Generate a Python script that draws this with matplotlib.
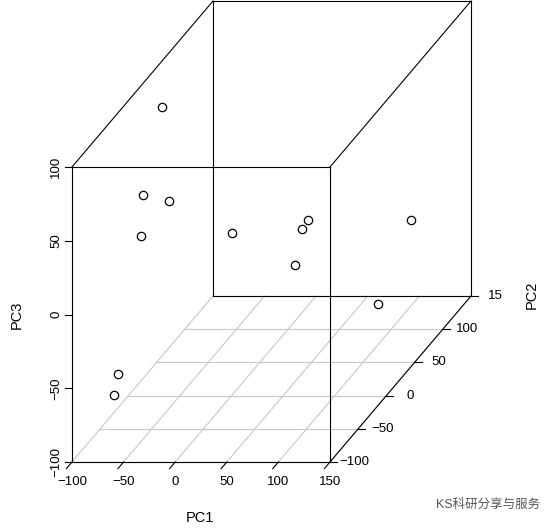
import matplotlib
matplotlib.use("Agg")
import matplotlib.pyplot as plt
import numpy as np

pc1 = [-95, -72, -74, -60, 0, 60, 68, 75, 119, 74, -83, -73]
pc2 = [50, -25, 25, -50, 0, 25, 0, -25, 100, 125, -50, -75]
pc3 = [73, 47, 21, 31, 10, 8, 13, 0, -26, -94, -63, -66]
x_ticks = [-100, -50, 0, 50, 100, 150]
y_ticks = [-100, -50, 0, 50, 100, 150]
z_ticks = [-100, -50, 0, 50, 100]

def proj(x, y, z):
    u = (np.asarray(y, float) + 100) / 250
    sx = 72 + (np.asarray(x, float) + 100) / 250 * 258 + u * 141
    sy = 462 - (np.asarray(z, float) + 100) / 200 * 295 - u * 166
    return sx, sy

plt.rcParams['font.family'] = ['Liberation Sans', 'Noto Sans CJK SC', 'DejaVu Sans']
fig = plt.figure(figsize=(5.48, 5.31), dpi=100)
ax = fig.add_axes([0, 0, 1, 1])
ax.set_xlim(0, 548); ax.set_ylim(531, 0); ax.axis('off')

def line(a, b, **kw):
    sa = proj(*a); sb = proj(*b)
    ax.plot([sa[0], sb[0]], [sa[1], sb[1]], **kw)

g = dict(color='#c8c8c8', lw=0.8)
for xv in x_ticks:
    line((xv, -100, -100), (xv, 150, -100), **g)
for yv in y_ticks:
    line((-100, yv, -100), (150, yv, -100), **g)

k = dict(color='black', lw=0.8)
for y0 in (-100, 150):
    line((-100, y0, 100), (150, y0, 100), **k)
    line((-100, y0, -100), (-100, y0, 100), **k)
    line((150, y0, -100), (150, y0, 100), **k)
    line((-100, y0, -100), (150, y0, -100), **k)
for (xv, zv) in [(-100, 100), (150, 100), (150, -100)]:
    line((xv, -100, zv), (xv, 150, zv), **k)

fs = 9.5
for xv in x_ticks:
    line((xv, -100, -100), (xv, -110, -100), **k)
    sx, sy = proj(xv, -100, -100)
    ax.text(sx, sy + 20, str(xv).replace('-', '−'), ha='center', va='center', fontsize=fs)
for zv in z_ticks:
    sx, sy = proj(-100, -100, zv)
    ax.plot([sx, sx - 7], [sy, sy], **k)
    ax.text(sx - 16, sy, str(zv).replace('-', '−'), ha='center', va='center', fontsize=fs, rotation=90)
for yv in y_ticks:
    sx, sy = proj(150, yv, -100)
    ax.plot([sx, sx + 7], [sy, sy], **k)
    lab = '15' if yv == 150 else str(yv).replace('-', '−')
    ax.text(sx + 24, sy, lab, ha='center', va='center', fontsize=fs)

sx, sy = proj(pc1, pc2, pc3)
ax.scatter(sx, sy, s=36, facecolors='white', edgecolors='black', linewidths=0.9, zorder=5)

ax.text(200, 518, 'PC1', ha='center', va='center', fontsize=10.5)
ax.text(17, 315, 'PC3', ha='center', va='center', fontsize=10.5, rotation=90)
ax.text(532, 295, 'PC2', ha='center', va='center', fontsize=10.5, rotation=90)
ax.text(540, 505, 'KS科研分享与服务', ha='right', va='center', fontsize=9, color='#555555')
fig.savefig('out.png', dpi=100)
